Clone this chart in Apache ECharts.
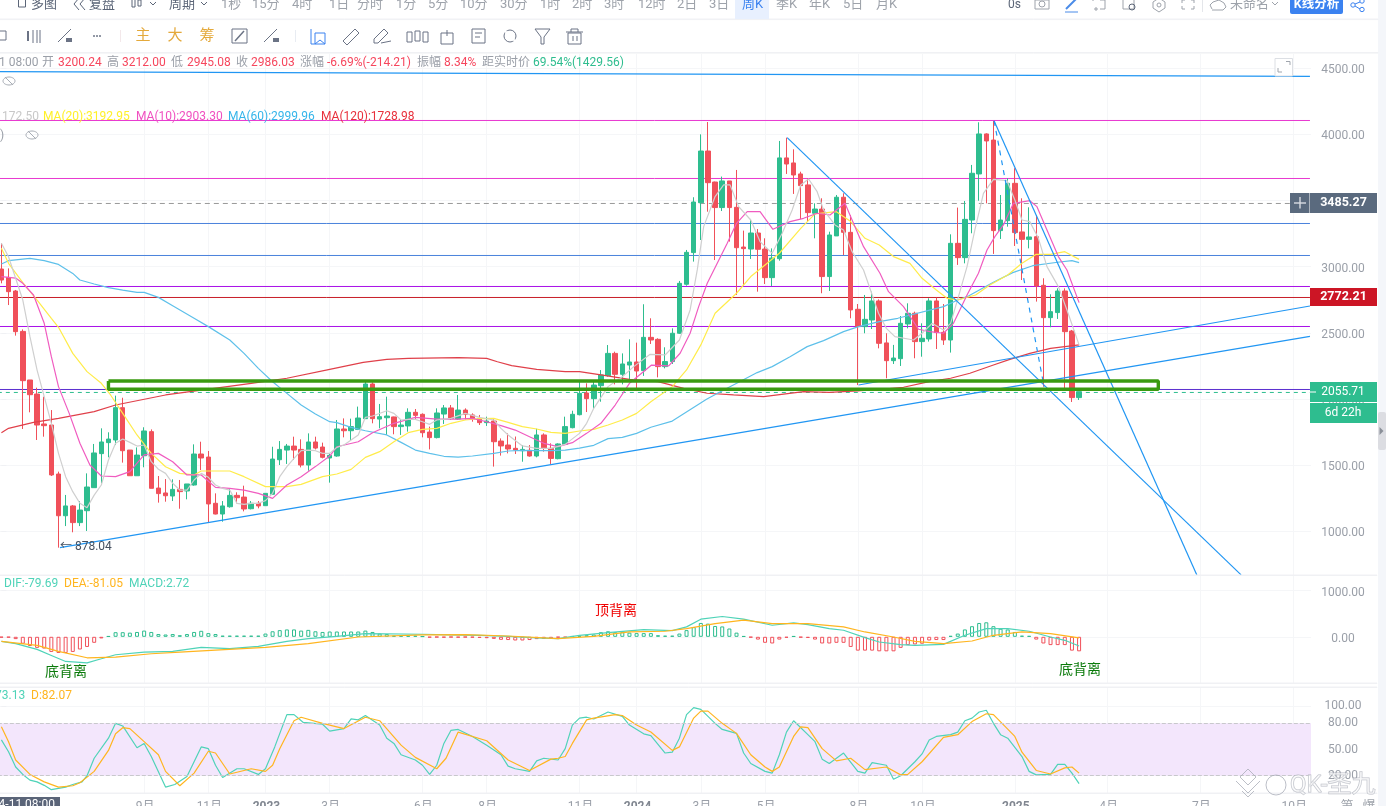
<!DOCTYPE html>
<html>
<head>
<meta charset="utf-8">
<title>K线</title>
<style>
  html, body { margin: 0; padding: 0; background: #fff; overflow: hidden; }
  #chart { width: 1386px; height: 806px; }
</style>
<script src="https://cdn.jsdelivr.net/npm/echarts@6/dist/echarts.min.js"></script>
</head>
<body>
<div id="chart"></div>
<script>
// 周K数据，从图上读出来的
const opens = [2982,2919,2816,2511,2144,2038,1812,1804,1434,1119,1193,1067,1157,1331,1588,1671,1691,1935,1615,1421,1572,1754,1328,1291,1268,1318,1306,1351,1585,1562,1213,1132,1187,1273,1260,1172,1213,1195,1281,1542,1615,1645,1620,1502,1676,1638,1555,1570,1774,1761,1771,1852,2114,1849,1859,1865,1792,1797,1900,1885,1751,1709,1887,1933,1849,1917,1880,1852,1822,1834,1683,1653,1628,1610,1613,1570,1729,1628,1550,1658,1784,1882,2046,2003,2101,2177,2345,2187,2257,2280,2215,2466,2451,2245,2283,2497,2867,3106,3483,3873,3639,3446,3647,3448,3148,3133,3254,3133,2917,3060,3821,3783,3700,3617,3403,3435,2925,3232,3524,3259,2678,2547,2597,2741,2424,2290,2305,2567,2648,2434,2454,2741,2504,2446,3176,3068,3352,3700,4002,3956,3272,3347,3629,3262,3206,3226,2859,2615,2653,2816,2514,2011];
const closes = [2899,2811,2509,2139,2033,1804,1799,1427,1119,1193,1067,1162,1336,1593,1676,1698,1935,1610,1421,1577,1759,1326,1286,1270,1318,1301,1359,1585,1555,1208,1132,1193,1273,1255,1170,1213,1193,1288,1547,1620,1645,1615,1502,1676,1630,1560,1575,1774,1761,1792,1857,2114,1852,1867,1872,1792,1804,1900,1877,1746,1709,1895,1933,1852,1917,1885,1852,1822,1834,1678,1646,1623,1615,1620,1570,1729,1628,1552,1661,1792,1885,2043,2003,2106,2182,2345,2187,2265,2280,2212,2466,2446,2245,2283,2497,2874,3108,3488,3873,3634,3446,3647,3446,3143,3136,3254,3131,2917,3065,3821,3775,3692,3612,3408,3435,2925,3239,3524,3259,2673,2547,2602,2741,2421,2290,2310,2572,2648,2434,2459,2741,2502,2446,3176,3068,3357,3705,4002,3949,3272,3352,3629,3257,3206,3224,2854,2615,2660,2816,2509,2011,2055.71];
const highs = [3176,2987,2824,2526,2144,2086,2018,1917,1452,1276,1200,1230,1439,1661,1779,1749,2026,2010,1615,1635,1787,1771,1419,1396,1394,1389,1359,1658,1678,1608,1288,1230,1326,1296,1346,1230,1230,1288,1640,1683,1661,1716,1696,1741,1716,1671,1590,1842,1854,1852,1943,2131,2126,1963,2018,1867,1842,1930,1925,1892,1792,1930,1955,1955,2031,1930,1892,1880,1867,1854,1703,1741,1717,1653,1653,1776,1741,1666,1666,1867,1912,2131,2119,2144,2219,2408,2358,2345,2451,2426,2716,2610,2459,2391,2534,2892,3126,3524,3999,4092,3642,3680,3647,3730,3272,3360,3284,3214,3138,3949,3974,3886,3717,3666,3478,3516,3264,3541,3554,3390,2718,2786,2811,2753,2497,2409,2627,2723,2660,2572,2761,2766,2718,3244,3446,3496,3768,4090,4007,4100,3541,3667,3743,3516,3448,3390,2912,2791,2836,2836,2522,2056];
const lows = [2874,2710,2479,1774,1900,1691,1716,1419,878,1041,994,1041,1004,1331,1364,1560,1653,1520,1421,1421,1485,1326,1218,1225,1230,1172,1243,1346,1464,1069,1129,1074,1180,1213,1152,1167,1175,1195,1281,1502,1510,1540,1484,1459,1620,1552,1369,1565,1711,1691,1766,1852,1817,1779,1729,1734,1729,1754,1842,1711,1620,1703,1812,1842,1842,1847,1829,1804,1797,1490,1573,1590,1585,1527,1565,1560,1603,1510,1545,1653,1779,1877,1902,1925,1980,2169,2111,2111,2144,2081,2175,2416,2164,2232,2265,2492,2856,3038,3201,3415,3050,3420,3189,2786,2857,3058,2811,2869,2854,3045,3700,3549,3360,3340,3214,2799,2816,3232,3088,2610,2106,2497,2529,2383,2157,2265,2250,2534,2308,2320,2434,2378,2409,2351,3013,3025,3252,3498,3478,3096,3209,3302,3156,2899,3138,2736,2094,2542,2605,2081,1978,1993];

// 均线，[周序号, 价格]
const ma5 = [[0,3176],[1,3075],[3,2748],[4,2471],[5,2219],[6,2018],[7,1817],[8,1590],[9,1414],[10,1301],[11,1213],[12,1180],[13,1275],[14,1351],[15,1540],[16,1666],[17,1698],[18,1673],[19,1645],[20,1653],[21,1527],[22,1470],[23,1439],[24,1364],[25,1313],[26,1313],[27,1389],[28,1439],[29,1409],[30,1351],[31,1326],[32,1313],[33,1213],[34,1205],[35,1213],[36,1213],[37,1233],[38,1288],[39,1414],[40,1490],[41,1552],[42,1610],[43,1615],[44,1610],[45,1590],[46,1590],[47,1635],[48,1653],[50,1729],[51,1862],[52,1872],[54,1912],[55,1892],[56,1842],[57,1847],[58,1847],[59,1829],[60,1809],[61,1842],[63,1854],[65,1892],[67,1862],[69,1842],[70,1779],[71,1729],[73,1646],[75,1628],[77,1628],[79,1658],[81,1741],[82,1817],[83,1930],[85,2094],[87,2169],[88.6,2245],[90.9,2338],[93,2333],[95,2446],[96.5,2673],[97.5,2975],[98.4,3302],[100,3529],[101.2,3617],[102.1,3617],[103.3,3453],[105,3352],[106.3,3189],[108,3101],[109.4,3252],[110.8,3428],[112,3617],[113.1,3662],[114.3,3566],[115.2,3428],[116.8,3315],[118,3277],[119.2,3113],[120.8,2975],[122.9,2648],[124,2534],[125.2,2471],[127.8,2446],[129,2497],[130.4,2572],[132,2522],[133,2572],[134.1,2773],[135.3,3000],[136.4,3277],[137.6,3554],[139,3659],[140.9,3649],[142,3503],[143,3352],[144.1,3340],[145.3,3214],[146.5,3000],[148.1,2849],[149.3,2673],[151,2409]];
const ma10 = [[0,2925],[1,2919],[2,2914],[3,2874],[4.5,2786],[6,2572],[7,2320],[8,2094],[9.5,1892],[11,1666],[12.4,1502],[14,1419],[16,1414],[18,1452],[20,1578],[22,1590],[24,1527],[26,1427],[28,1427],[30,1333],[32,1326],[34,1313],[36,1288],[38,1250],[40,1351],[42,1414],[44,1490],[46,1570],[47,1640],[50,1678],[52,1746],[55,1817],[58,1862],[61,1849],[64,1849],[66,1854],[68,1829],[70,1799],[72,1766],[74,1716],[76,1666],[78,1641],[80,1671],[82,1741],[84,1817],[86,1955],[88,2119],[91.1,2257],[93.5,2250],[95.1,2346],[96.5,2497],[97.7,2698],[98.9,2874],[100.3,3025],[101.7,3176],[103,3327],[104.5,3415],[106.3,3415],[108.1,3282],[110.5,3340],[112.4,3365],[114.3,3403],[116.1,3390],[118.2,3478],[119,3377],[120.8,3151],[123.1,2950],[124.3,2811],[126.4,2698],[128.5,2527],[130.1,2509],[132,2497],[133.4,2572],[135.3,2786],[136.9,2950],[138.1,3126],[139.2,3227],[140.4,3315],[141.8,3478],[144.1,3498],[145.1,3453],[146.5,3277],[148.1,3076],[149.3,2975],[151,2728]];
const ma20 = [[0,3138],[1,3025],[3,2880],[5,2748],[7,2610],[8,2542],[10,2345],[12,2207],[14,2119],[15.3,2031],[17,1892],[19,1729],[21,1590],[23,1489],[25,1439],[27,1427],[28,1457],[32,1457],[34,1414],[37,1339],[40,1339],[42,1356],[45,1414],[47,1434],[49,1469],[51,1560],[53,1603],[55,1678],[57,1746],[59,1771],[61,1779],[63,1817],[65,1842],[67,1852],[69,1854],[71,1824],[73,1792],[75,1774],[77,1749],[79,1741],[81,1759],[83,1771],[85,1804],[87,1842],[89,1892],[91,1980],[94,2094],[96,2220],[98,2409],[100,2648],[103,2799],[105,2925],[107,3013],[109,3101],[112,3289],[114,3398],[117,3415],[119,3340],[121,3214],[123,3164],[125,3076],[127.3,3025],[129,2912],[131,2824],[132.5,2761],[134,2748],[136.5,2786],[138.5,2862],[141,2937],[143,3025],[145,3093],[147,3093],[149,3113],[151,3055]];
const ma60 = [[0,3020],[1,3045],[4,3063],[6,3045],[8,3017],[10,2949],[11,2899],[13,2869],[15,2841],[17,2823],[19,2806],[20,2806],[22,2768],[24,2705],[27,2610],[29,2547],[32,2446],[34,2345],[36,2232],[38,2131],[40,2043],[42,1955],[44,1887],[46,1829],[47,1822],[49,1786],[51,1761],[54,1729],[56,1673],[58,1615],[60,1590],[62,1568],[64,1562],[66,1570],[69,1590],[71,1608],[73,1613],[75,1610],[77,1610],[79,1615],[81,1630],[83,1651],[85,1701],[87,1711],[89,1741],[91,1787],[94,1834],[98.8,1998],[101.2,2069],[103.5,2132],[105.9,2200],[108,2245],[110.5,2320],[112.9,2396],[115.2,2441],[118,2509],[120.1,2547],[123,2585],[125.6,2610],[132,2698],[134,2748],[135.5,2778],[139,2882],[141.7,2955],[144.5,3007],[148,3033],[150,3045],[151,3030]];
const ma120 = [[0,1746],[1,1779],[4.5,1824],[8,1854],[13,1905],[16,1955],[19.5,1993],[23,2031],[28,2068],[35,2119],[40,2157],[46,2224],[50.7,2277],[54,2300],[57,2307],[64,2313],[68,2307],[69.5,2282],[71.5,2252],[75,2224],[79,2207],[81,2207],[84,2182],[88,2149],[92,2132],[95.6,2081],[98.9,2044],[102.6,2031],[106.8,2018],[112.4,2056],[116,2050],[120,2062],[124,2078],[126.4,2089],[130,2132],[133,2157],[135.7,2195],[139,2257],[141.3,2300],[144.1,2345],[147,2383],[151,2409]];

// 水平画线的价格
const lineLevels = [4103.6, 3665.6, 3325.8, 3084.2, 2850.1, 2767, 2548, 2072.3];
const crossPrice = 3477;
const lastClose = 2050;

// 趋势线 [[周序号, 价格], [周序号, 价格]]
const topLine = [[-0.5,4472],[183.35,4437]];
const supportLine = [[8.2,878],[183.35,2473]];
const riseLine = [[120.1,2106],[183.35,2703]];
const fallLineA = [[110.1,3974],[173.7,672]];
const fallLineB = [[139.1,4100],[167.5,672]];
const dashLine = [[139.1,4100],[146.1,2091]];
const boxLine = [[15,2136.5],[162.1,2136.5],[162.1,2073.9],[15,2073.9],[15,2136.5]];

// MACD
const histValues = [-15,-15,-50,-150,-200,-240,-255,-328,-350,-350,-328,-275,-220,-130,-35,15,100,100,90,105,135,105,60,50,60,35,60,105,130,80,60,25,25,25,25,25,25,70,120,145,160,160,135,150,120,105,115,115,115,115,115,135,105,70,60,25,25,25,25,10,-15,-10,-15,-10,-15,-10,-15,-25,-30,-45,-65,-70,-80,-80,-70,-50,-45,-45,-15,-15,15,20,35,50,100,120,100,100,90,80,80,80,35,25,25,70,145,210,300,285,235,225,180,90,15,-15,-60,-130,-145,-60,-20,15,-15,-25,-60,-145,-145,-130,-130,-220,-300,-300,-300,-315,-315,-315,-240,-180,-165,-150,-80,-70,-70,20,70,160,230,300,315,230,175,160,105,25,20,-60,-145,-180,-180,-180,-300,-315];
const dif = [[0,-98],[2,-149],[5,-273],[7,-404],[9,-535],[12,-564],[14,-477],[16,-389],[20,-331],[24,-317],[28,-229],[32,-258],[36,-207],[40,-98],[43,-40],[47,11],[51,69],[59,55],[63,40],[67,33],[71,11],[75,-25],[78,-40],[81,33],[85,91],[90,156],[94,135],[96,215],[98,382],[101,440],[104,382],[108,251],[111,302],[113,266],[116,178],[118,142],[121,-18],[123,-113],[126,-171],[128,-186],[132,-164],[135,33],[138,178],[141,178],[144,120],[147,-4],[149,-76],[151,-200]];
const dea = [[0,-98],[5,-185],[8,-317],[12,-455],[16,-440],[21,-367],[25,-331],[30,-287],[37,-229],[43,-149],[50,-4],[59,40],[65,47],[71,18],[78,-40],[83,11],[88,105],[93,120],[96,178],[100,287],[104,360],[108,287],[113,287],[118,215],[121,105],[125,-4],[128,-98],[132,-149],[136,-91],[139,33],[143,105],[147,69],[151,-25]];

// KDJ
const kLine = [[0,61],[1,47.5],[2,30],[3,21.5],[4,15],[5,13],[6,9],[7,4],[9,7],[10,10],[11.3,13],[12,20],[13,40],[15,63],[16,80],[17,77],[19,52],[20,57],[21,42],[23,7],[24.3,10],[26,19],[28,53],[29,51],[30,32],[31,18],[33,28],[34,28],[36,21.5],[37,28],[38.3,53],[40,90],[41,90],[42.3,81],[45,79],[46,71],[48,74],[49,85],[50,84],[51,89],[53,78],[54,63],[55,57],[56,44],[58,38],[59,32],[60,21.5],[61,32],[62,57],[63,72],[64,73],[66,65],[68,55],[70,44],[71,31],[72,28],[74,25],[75,37],[76,40],[78,38],[79,51],[80,78],[81,86],[82,87],[83,85],[85,93],[87,88],[88,78],[90,68],[91,66],[93,46],[94,47],[95,63],[96,90],[97,98],[98,96],[100,80],[101,73],[103,68.5],[104,46],[105,34],[107,25],[108,23],[109,44],[110,70],[111,83],[113,67],[114,59],[115,39],[116,34],[118,46],[120,25],[121,23],[122,35],[124,32],[125,16],[126,20],[128,36],[129,45],[130,61],[131,65],[133,67],[134,70],[135,83],[136,86],[137,93],[138,95],[139,80],[140,67],[141,63],[143,42],[144,25],[145,21],[147,21.5],[148,33],[149,33],[150,23],[151,11]];
const dLine = [[0,76],[1,59],[2,38],[4,21.5],[6,13],[8,7],[10,8.5],[11,12],[13,25],[15,49],[16,68],[17,75],[18,74],[20,59],[22,44],[23,25],[25,8.5],[27,23],[29,48],[30,46],[32,22],[35,28],[37,25],[38,32],[39,51],[41,83],[42,87],[45,80],[48,74],[51,87],[53,83],[56,55],[58,41],[61,28],[62.3,40],[64,70],[68,60],[71,38],[74,26],[77,39],[78,40],[79,42],[80,57],[82,84],[83,86],[86,90],[87,89],[89,78],[91,70],[94,49],[95,53],[97,86],[98,94],[99,94],[101,80],[103,68.5],[105,44],[107,30],[108,25],[109,30],[111,65],[112,76],[113,75],[115,51],[117,37],[119,40],[121,27],[124,30],[126,21],[127,21.5],[129,36],[132,64],[134,67],[136,82],[138,91],[139,90],[142,65],[143,47],[145,26],[147,22],[149,29],[150,30],[151,23]];

// 时间轴
const tickWeeks = [20,29,37,46,59,68,81,89,98,107,120,129,142,155,168,181];
const tickTexts = ['9月','11月','2023','3月','6月','8月','11月','2024','3月','5月','8月','10月','2025','4月','7月','10月'];
const priceTicks = [1000,1500,2000,2500,3000,3500,4000,4500];
const macdTicks = [0,1000];
const kdjTicks = [20,50,80,100];

const weekSlots = Array.from({ length: 184 }, (_, i) => i);

const UP = '#2ebd8f', DOWN = '#f0505a', TEAL = '#4fd3b8', ORANGE = '#ffb51f';
const BLUE = '#2196f3', FONT = 'Roboto, "Noto Sans CJK SC", sans-serif';

const chart = echarts.init(document.getElementById('chart'));

function lineOf(data, color, width, grid, extra) {
  return Object.assign({
    type: 'line', data: data, xAxisIndex: 3 + grid, yAxisIndex: grid,
    symbol: 'none', silent: true, animation: false,
    lineStyle: { color: color, width: width }
  }, extra || {});
}

// 轴和网格
const HIDE = { show: false };
const lightLine = { show: true, lineStyle: { color: '#f5f6f8', width: 1 } };
function catAxis(g) {
  return { type: 'category', gridIndex: g, data: weekSlots, show: false };
}
function weekAxis(g, withLabel) {
  return {
    type: 'value', gridIndex: g, min: -0.5, max: 183.5, position: 'bottom',
    axisLine: HIDE, splitLine: lightLine,
    axisTick: { show: false, customValues: tickWeeks },
    axisLabel: {
      show: withLabel, customValues: tickWeeks, margin: 7.5,
      formatter: v => {
        const t = tickTexts[tickWeeks.indexOf(v)] || '';
        return (t.length === 4 ? '{y|' : '{m|') + t + '}';
      },
      rich: {
        m: { color: '#9a9fa8', fontSize: 12, fontFamily: FONT, padding: [0, 0, 0, 2] },
        y: { color: '#808690', fontWeight: 'bold', fontSize: 12, fontFamily: FONT, padding: [0, 0, 0, 2] }
      }
    }
  };
}
function priceAxis(g, min, max, ticks, padTop) {
  return {
    type: 'value', gridIndex: g, position: 'right', min: min, max: max, scale: true,
    axisLine: HIDE, splitLine: lightLine,
    axisTick: { show: true, length: 5, customValues: ticks, lineStyle: { color: '#f0f1f4' } },
    axisLabel: {
      customValues: ticks, align: 'center', margin: 32,
      formatter: v => '{a|' + v.toFixed(2) + '}',
      rich: { a: { color: '#9a9fa8', fontSize: 12, fontFamily: FONT, padding: [padTop, 0, 0, 0] } }
    }
  };
}

// 工具栏和标注都画在 graphic 里
const gfx = [];
function T(text, x, y, color, size, align, weight) {
  gfx.push({
    type: 'text', x: x, y: y + 1.5, z: 100, silent: true,
    style: {
      text: text, fill: color, font: (weight || 'normal') + ' ' + (size || 12) + 'px ' + FONT,
      align: align || 'left', verticalAlign: 'middle', textAlign: align || 'left', textVerticalAlign: 'middle'
    }
  });
}
function R(x, y, w, h, fill, stroke, z) {
  gfx.push({
    type: 'rect', z: z || 90, silent: true, shape: { x: x, y: y, width: w, height: h },
    style: { fill: fill || 'none', stroke: stroke || 'none', lineWidth: 1 }
  });
}
function P(points, stroke, width) {
  gfx.push({
    type: 'polyline', z: 100, silent: true, shape: { points: points },
    style: { fill: 'none', stroke: stroke, lineWidth: width || 1 }
  });
}
function C(x, y, r, stroke) {
  gfx.push({
    type: 'circle', z: 100, silent: true, shape: { cx: x, cy: y, r: r },
    style: { fill: 'none', stroke: stroke, lineWidth: 1 }
  });
}

// 第一排
R(0, 0, 1378, 19, '#fff', null, 80);
R(0, 19, 1378, 34, '#fff', null, 80);
R(0, 19, 1378, 0.6, null, '#f0f1f4');
R(0, 52.5, 1378, 0.6, null, '#f0f1f4');
R(1378, 0, 8, 806, '#f4f6fa', null, 85);
const DARK = '#5c6678', GREY = '#9ea3ab';
R(18.5, -2, 7, 9, null, DARK);
T('多图', 31, 3, DARK, 13);
P([[79,-2],[74,4],[79,10]], DARK); P([[85,-2],[80,4],[85,10]], DARK);
T('复盘', 89, 3, DARK, 13);
R(132, -1, 3, 8, null, DARK); R(138, 0, 3, 6, null, DARK);
P([[150,2],[153,5],[156,2]], DARK);
T('周期', 169, 3, DARK, 13);
P([[201,2],[204,5],[207,2]], DARK);
[['1秒',221],['15分',252],['4时',292],['1日',329],['分时',357],['1分',396],['5分',428],['10分',460],['30分',500],
 ['1时',540],['2时',572],['3时',604],['12时',638],['2日',677],['3日',709],['季K',776],['年K',809],['5日',843],['月K',876]]
  .forEach(t => T(t[0], t[1], 3, GREY, 13));
R(735, 0, 34, 19, '#e8f0fe', null, 90);
T('周K', 742, 3, '#3b82f0', 13);
T('0s', 1008, 3.5, DARK, 12);
R(1035, 0, 14, 9, null, GREY); C(1042, 4, 3, GREY);
P([[1066,9],[1076,-1]], '#4a8be8', 2); P([[1065,12],[1078,12]], '#4a8be8');
P([[1093,1],[1093,-1]], GREY); P([[1100,0],[1105,0],[1105,9],[1100,9]], GREY); P([[1096,7],[1096,11]], GREY); P([[1094,9],[1098,9]], GREY);
R(1123, -2, 11, 11, null, GREY); C(1132, 7, 3, DARK);
P([[1159,-2],[1165,2],[1165,8],[1159,12],[1153,8],[1153,2],[1159,-2]], GREY); C(1159, 5, 2, GREY);
P([[1182,3],[1182,0],[1185,0]], GREY); P([[1191,0],[1194,0],[1194,3]], GREY); P([[1182,6],[1182,9],[1185,9]], GREY); P([[1194,6],[1194,9],[1191,9]], GREY);
P([[1202.5,-2],[1202.5,12]], '#e4e6ea');
P([[1212,9],[1210,5],[1213,2],[1219,0],[1224,3],[1226,7],[1223,10],[1212,10]], GREY);
T('未命名', 1230, 3, GREY, 13);
P([[1272,2],[1275,5],[1278,2]], GREY);
gfx.push({ type: 'rect', z: 90, silent: true, shape: { x: 1290, y: -4, width: 53, height: 18, r: 2 }, style: { fill: '#3b82f0' } });
T('K线分析', 1316.5, 3, '#fff', 12.5, 'center', 'bold');
C(1362, 1, 2.2, '#3b82f0'); C(1353, 5, 2.2, '#3b82f0'); C(1362, 9.5, 2.2, '#3b82f0');
P([[1355,4],[1360,2]], '#3b82f0'); P([[1355,6],[1360,9]], '#3b82f0');

// 第二排图标
const ICON = '#6b7385';
P([[0,31],[6,31],[6,40],[0,40]], ICON);
P([[28,41],[28,31]], ICON, 2); P([[33,43],[33,30]], ICON); P([[37,43],[37,30]], ICON); P([[40,43],[40,30]], ICON);
P([[58,42],[71,29]], ICON); R(66, 38, 6, 4, ICON, null, 95);
T('•••', 97, 35, ICON, 9, 'center');
P([[120.5,30],[120.5,42]], '#f3e8ea');
T('主', 143, 34.5, '#e4a93b', 15, 'center');
T('大', 175, 34.5, '#e4a93b', 15, 'center');
T('筹', 207, 34.5, '#e4a93b', 15, 'center');
R(232, 29, 15, 14, null, ICON); P([[235,41],[244,31]], ICON, 1.5);
P([[264,42],[277,29]], ICON); R(273, 38, 6, 4, ICON, null, 95);
P([[295.5,30],[295.5,42]], '#e8ecf2');
P([[311,29],[311,44],[325,44]], '#3b82f0', 1); P([[315,33],[325,33],[325,44],[320,40],[315,44],[315,33]], '#3b82f0', 1);
P([[343,41],[355,29],[359,33],[347,45],[343,41]], ICON);
P([[374,43],[378,43],[388,33],[384,29],[374,39],[374,43]], ICON); P([[381,43],[391,41]], ICON);
R(407, 32, 5, 10, null, ICON); R(415, 31, 5, 10, null, ICON); R(423, 32, 5, 10, null, ICON);
R(441, 33, 12, 11, null, ICON); P([[447,30],[447,36]], ICON);
R(472, 29, 13, 14, null, ICON); P([[475,33],[482,33]], ICON); P([[475,37],[480,37]], ICON);
C(510, 36, 6, ICON); P([[505,31],[515,41]], '#fff', 2);
P([[535,29],[550,29],[544,37],[544,44],[541,44],[541,37],[535,29]], ICON);
R(568, 33, 13, 11, null, ICON); P([[566,32],[583,32]], ICON); P([[571,32],[571,29],[578,29],[578,32]], ICON); P([[573,36],[573,41]], ICON); P([[577,36],[577,41]], ICON);

// 行情信息
const RED = '#f6465d', GRN = '#2ebd8f', GT = '#9a9fa8';
[['1 08:00',-1,GT],['开',42,GT],['3200.24',58,RED],['高',107,GT],['3212.00',122,RED],['低',171,GT],['2945.08',187,RED],
 ['收',236,GT],['2986.03',251,RED],['涨幅',300,GT],['-6.69%(-214.21)',327,RED],['振幅',417,GT],['8.34%',444,RED],
 ['距实时价',482,GT],['69.54%(1429.56)',533,GRN]].forEach(t => T(t[0], t[1], 61.5, t[2], 12));
[['172.50',2,'#c8c8c8'],['MA(20):3192.95',43,'#fff02a'],['MA(10):2903.30',136,'#f050c0'],['MA(60):2999.96',228,'#35b5ea'],['MA(120):1728.98',321,'#e8303c']]
  .forEach(t => T(t[0], t[1], 115.5, t[2], 12));
T(')', 0, 134, GT, 12);
gfx.push({ type: 'ellipse', z: 100, silent: true, shape: { cx: 9, cy: 81, rx: 6, ry: 4 }, style: { fill: 'none', stroke: '#a8adb5' } });
P([[5,77],[13,85]], '#a8adb5');
gfx.push({ type: 'ellipse', z: 100, silent: true, shape: { cx: 32, cy: 135, rx: 6, ry: 4 }, style: { fill: 'none', stroke: '#a8adb5' } });
P([[28,131],[36,139]], '#a8adb5');
R(1275, 58.5, 17.5, 17.5, '#fff', '#dcdfe4');
P([[1286,61.5],[1290,61.5],[1290,65]], '#a0a5ad'); P([[1278,68],[1278,72],[1282,72]], '#a0a5ad');

// 副图图例
T('DIF:-79.69', 4, 582.5, TEAL, 12);
T('DEA:-81.05', 64, 582.5, ORANGE, 12);
T('MACD:2.72', 129, 582.5, TEAL, 12);
T('73.13', -5, 694.5, TEAL, 12);
T('D:82.07', 31, 694.5, ORANGE, 12);

// 标注
T('← 878.04', 60, 545.5, '#46505f', 12);
T('底背离', 66, 671, '#0a7a0a', 14, 'center');
T('顶背离', 616, 610, '#f00000', 14, 'center');
T('底背离', 1080, 669, '#0a7a0a', 14, 'center');

// 右侧价格牌
R(1290, 193, 19.5, 20, '#5a6a7e');
P([[1300,197],[1300,208.5]], '#d8dce2', 1.4); P([[1294,203],[1306,203]], '#d8dce2', 1.4);
R(1310, 193, 67, 20, '#5a6a7e');
T('3485.27', 1343.5, 201.5, '#fff', 12.5, 'center', 'bold');
R(1310, 288, 67, 18, '#cc1525');
T('2772.21', 1343.5, 295.5, '#fff', 12.5, 'center', 'bold');
R(1310, 382, 67, 20, '#2ebd8f');
T('2055.71', 1343, 390.5, '#fff', 12, 'center');
P([[1310,392],[1316,392]], '#fff');
R(1310, 403, 67, 20, '#2ebd8f');
T('6d 22h', 1343, 411.5, '#fff', 12, 'center');
gfx.push({ type: 'rect', z: 90, silent: true, shape: { x: 1378, y: 412, width: 8, height: 38, r: 2 }, style: { fill: '#dcdde2' } });
gfx.push({ type: 'polygon', z: 100, silent: true, shape: { points: [[1379.5,427],[1383.5,431],[1379.5,435]] }, style: { fill: '#8a8f98' } });

// 分隔线
[575, 683, 687, 793].forEach(y => R(0, y, 1377, 0.5, null, '#f0f1f4', 20));

// 底部
R(0, 797, 60, 9, '#5a6478');
T('4-11 08:00', 55, 803, '#fff', 12, 'right');
T('第', 1347, 805, GREY, 13, 'center');
T('爆', 1369, 805, GREY, 13, 'center');

// 水印
const WM = 'rgba(165,170,180,.75)';
P([[1248,769],[1256,777],[1248,785],[1240,777],[1248,769]], WM);
P([[1236,781],[1248,793],[1260,781]], WM);
P([[1242,791],[1248,797],[1254,791]], WM);
C(1276, 785, 10, WM);
gfx.push({
  type: 'text', x: 1290, y: 786, z: 100, silent: true,
  style: {
    text: 'QK-圣九', font: '24px ' + FONT, fill: 'rgba(255,255,255,.55)', stroke: WM, lineWidth: 1,
    align: 'left', verticalAlign: 'middle', textAlign: 'left', textVerticalAlign: 'middle'
  }
});

// 水平线
const levelColors = ['#e838d0', '#e838d0', '#4a82dc', '#4a82dc', '#a810e8', '#c81e28', '#a810e8', '#5b2fd0'];
const levelSeries = lineLevels.map((v, i) =>
  lineOf([[-0.5, v], [183.35, v]], levelColors[i], 1, 0, { z: 1 }));

const bandStyle = { color: '#c8c8cc', type: 'dashed', width: 1 };

const option = {
  animation: false,
  backgroundColor: '#fff',
  textStyle: { fontFamily: FONT },
  grid: [
    { left: -2.17, top: 54, width: 1313.2, height: 521, outerBoundsMode: 'none' },
    { left: -2.17, top: 575, width: 1313.2, height: 108, outerBoundsMode: 'none' },
    { left: -2.17, top: 687, width: 1313.2, height: 106.2, outerBoundsMode: 'none' }
  ],
  xAxis: [catAxis(0), catAxis(1), catAxis(2), weekAxis(0, false), weekAxis(1, false), weekAxis(2, true)],
  yAxis: [
    priceAxis(0, 671.5, 4605.7, priceTicks, 4),
    priceAxis(1, -1002, 1340.6, macdTicks, 4),
    priceAxis(2, 0, 121.6, kdjTicks, 0)
  ],
  graphic: { elements: gfx },
  series: levelSeries.concat([
    lineOf([[-0.5, crossPrice], [183.35, crossPrice]], '#9a9a9a', 1, 0, { z: 1, lineStyle: { color: '#9a9a9a', width: 1, type: [5, 4] } }),
    lineOf([[-0.5, lastClose], [183.35, lastClose]], UP, 1, 0, { z: 1, lineStyle: { color: UP, width: 1, type: [4, 4] } }),
    {
      type: 'candlestick', xAxisIndex: 0, yAxisIndex: 0, z: 3, barWidth: 5,
      data: opens.map((o, i) => [o, closes[i], lows[i], highs[i]]),
      itemStyle: { color: UP, color0: DOWN, borderColor: UP, borderColor0: DOWN, borderWidth: 1 }
    },
    lineOf(ma120, '#e0404a', 1.2, 0, { z: 4 }),
    lineOf(ma60, '#5ec0ea', 1.2, 0, { z: 4 }),
    lineOf(ma20, '#ffec4a', 1.2, 0, { z: 4 }),
    lineOf(ma10, '#f05cc0', 1.2, 0, { z: 4 }),
    lineOf(ma5, '#cfcfcf', 1.2, 0, { z: 4 }),
    lineOf(topLine, BLUE, 1.2, 0, { z: 5 }),
    lineOf(supportLine, BLUE, 1.2, 0, { z: 5 }),
    lineOf(riseLine, BLUE, 1.2, 0, { z: 5 }),
    lineOf(fallLineA, BLUE, 1.2, 0, { z: 5 }),
    lineOf(fallLineB, BLUE, 1.2, 0, { z: 5 }),
    lineOf(dashLine, BLUE, 1, 0, { z: 5, lineStyle: { color: BLUE, width: 1.2, type: [5, 5] } }),
    lineOf(boxLine, '#3a9a10', 3.4, 0, { z: 6 }),
    {
      type: 'bar', xAxisIndex: 1, yAxisIndex: 1, barWidth: 4, z: 3,
      data: histValues.map(v => ({
        value: v,
        itemStyle: { color: '#fff', borderColor: v >= 0 ? UP : DOWN, borderWidth: 1 }
      }))
    },
    lineOf(dif, TEAL, 1.2, 1, { z: 4 }),
    lineOf(dea, ORANGE, 1.2, 1, { z: 4 }),
    lineOf(kLine, TEAL, 1.2, 2, {
      z: 4,
      markArea: { silent: true, itemStyle: { color: '#f3e6fc' }, data: [[{ yAxis: 80 }, { yAxis: 20 }]] },
      markLine: { silent: true, symbol: 'none', label: { show: false }, lineStyle: bandStyle, data: [{ yAxis: 80 }, { yAxis: 20 }] }
    }),
    lineOf(dLine, ORANGE, 1.2, 2, { z: 4 })
  ])
};

chart.setOption(option);
</script>
</body>
</html>
